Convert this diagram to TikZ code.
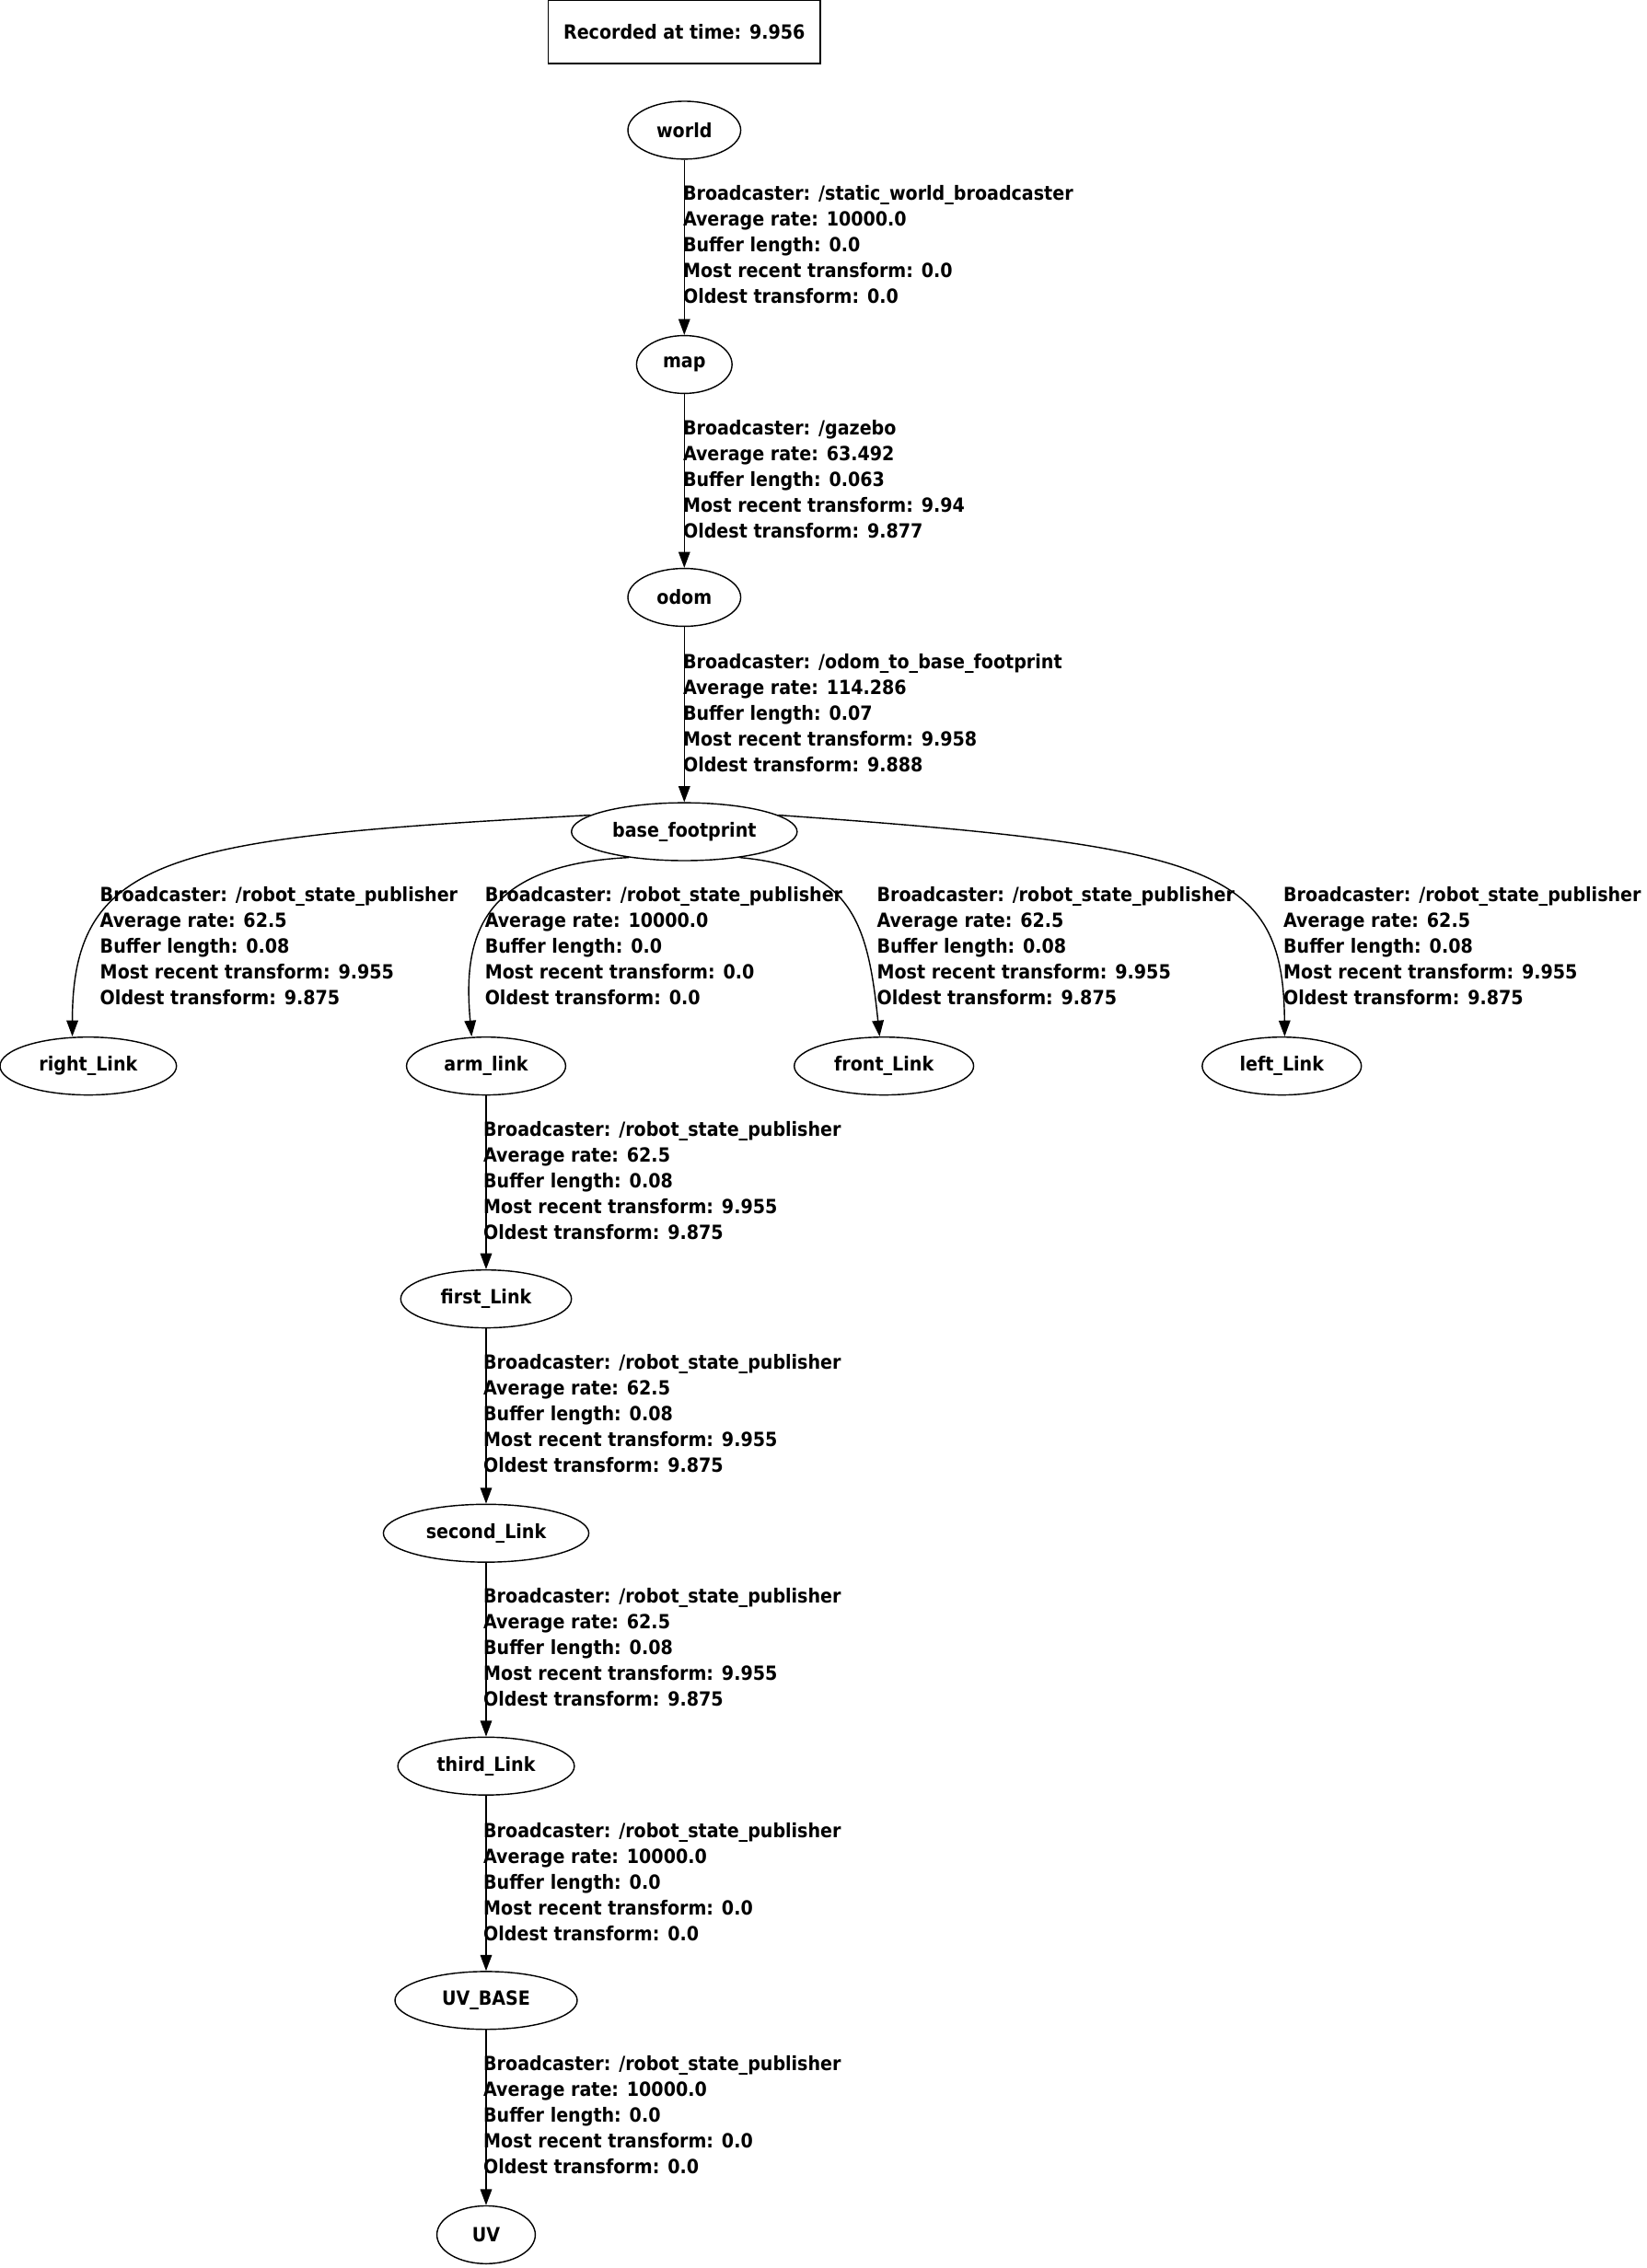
\documentclass[tikz,border=0pt]{standalone}
\usepackage{fontspec}
\setmainfont{DejaVu Sans Condensed}
\usetikzlibrary{shapes.geometric,arrows.meta}
\begin{document}
\begin{tikzpicture}[x=1pt,y=-1pt,
  fr/.style={ellipse,draw,line width=0.9pt,inner sep=0pt,minimum height=40pt,font=\bfseries\fontsize{13.5}{15}\selectfont},
  lb/.style={anchor=north west,align=left,inner sep=0pt,font=\bfseries\fontsize{13.5}{17.8}\selectfont},
  ed/.style={line width=0.9pt,-{Triangle[length=11pt,width=8pt]}}]
\useasboundingbox[fill=white] (0,0) rectangle (1138,1568);
\node[draw,line width=0.9pt,minimum width=188pt,minimum height=44pt,inner sep=0pt,font=\bfseries\fontsize{13.5}{15}\selectfont] (rec) at (473,22) {Recorded at time: 9.956};
\node[fr,minimum width=78pt] (world) at (473,90) {world};
\node[fr,minimum width=66pt] (map) at (473,252) {map};
\node[fr,minimum width=78pt] (odom) at (473,413) {odom};
\node[fr,minimum width=156pt] (bf) at (473,575) {base\_footprint};
\node[fr,minimum width=122pt] (rl) at (61,737) {right\_Link};
\node[fr,minimum width=110pt] (al) at (336,737) {arm\_link};
\node[fr,minimum width=124pt] (fl) at (611,737) {front\_Link};
\node[fr,minimum width=110pt] (ll) at (886,737) {left\_Link};
\node[fr,minimum width=118pt] (l1) at (336,898) {first\_Link};
\node[fr,minimum width=142pt] (l2) at (336,1060) {second\_Link};
\node[fr,minimum width=122pt] (l3) at (336,1221) {third\_Link};
\node[fr,minimum width=126pt] (uvb) at (336,1383) {UV\_BASE};
\node[fr,minimum width=68pt] (uv) at (336,1545) {UV};
\draw[ed] (world) -- (map);
\draw[ed] (map) -- (odom);
\draw[ed] (odom) -- (bf);
\draw[ed] (bf.170) .. controls (120,579) and (50,590) .. (rl.north -| 50,0);
\draw[ed] (bf.205) .. controls (330,598) and (320,650) .. (al.north -| 326,0);
\draw[ed] (bf.-25) .. controls (590,600) and (600,640) .. (fl.north -| 608,0);
\draw[ed] (bf.10) .. controls (840,585) and (887,600) .. (ll.north -| 888,0);
\draw[ed] (al) -- (l1);
\draw[ed] (l1) -- (l2);
\draw[ed] (l2) -- (l3);
\draw[ed] (l3) -- (uvb);
\draw[ed] (uvb) -- (uv);
\newcommand\rsp[2]{Broadcaster: /robot\_state\_publisher\\Average rate: #1\\Buffer length: #2\\}
\node[lb] (t1) at (472,128) {Broadcaster: /static\_world\_broadcaster\\Average rate: 10000.0\\Buffer length: 0.0\\Most recent transform: 0.0\\Oldest transform: 0.0};
\node[lb] (t2) at (472,290) {Broadcaster: /gazebo\\Average rate: 63.492\\Buffer length: 0.063\\Most recent transform: 9.94\\Oldest transform: 9.877};
\node[lb] (t3) at (472,452) {Broadcaster: /odom\_to\_base\_footprint\\Average rate: 114.286\\Buffer length: 0.07\\Most recent transform: 9.958\\Oldest transform: 9.888};
\node[lb] (t4) at (69,613) {\rsp{62.5}{0.08}Most recent transform: 9.955\\Oldest transform: 9.875};
\node[lb] (t5) at (335,613) {\rsp{10000.0}{0.0}Most recent transform: 0.0\\Oldest transform: 0.0};
\node[lb] (t6) at (606,613) {\rsp{62.5}{0.08}Most recent transform: 9.955\\Oldest transform: 9.875};
\node[lb] (t7) at (887,613) {\rsp{62.5}{0.08}Most recent transform: 9.955\\Oldest transform: 9.875};
\node[lb] (t8) at (334,775) {\rsp{62.5}{0.08}Most recent transform: 9.955\\Oldest transform: 9.875};
\node[lb] (t9) at (334,936) {\rsp{62.5}{0.08}Most recent transform: 9.955\\Oldest transform: 9.875};
\node[lb] (t10) at (334,1098) {\rsp{62.5}{0.08}Most recent transform: 9.955\\Oldest transform: 9.875};
\node[lb] (t11) at (334,1260) {\rsp{10000.0}{0.0}Most recent transform: 0.0\\Oldest transform: 0.0};
\node[lb] (t12) at (334,1421) {\rsp{10000.0}{0.0}Most recent transform: 0.0\\Oldest transform: 0.0};
\end{tikzpicture}
\end{document}
